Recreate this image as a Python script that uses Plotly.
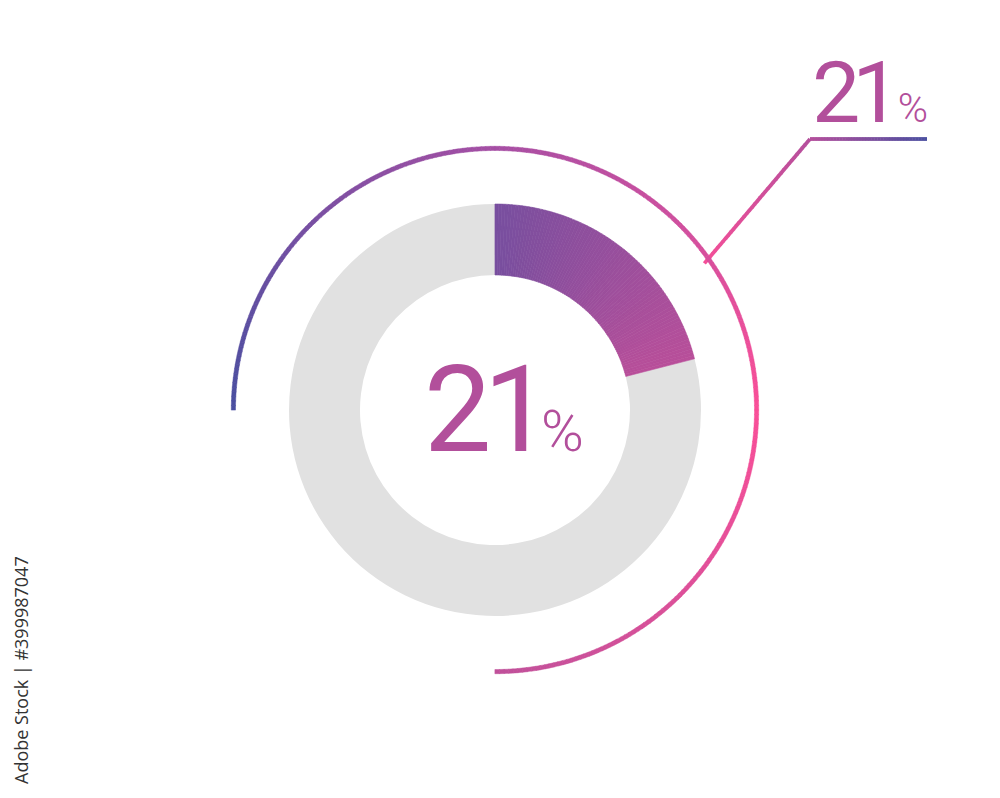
import plotly.graph_objects as go
import numpy as np

# ---- data ----
percent_value = 21
digits = ["2", "1"]
percent_sign = "%"
watermark = "Adobe Stock | #399987047"

W, H = 1000, 798
OFF = 8                    # browser body margin compensation
cx, cy = 495 - OFF, 410 - OFF
R_AX = 270                 # polar radial range (1 unit = 1 px)

r_in, r_out = 135, 206
arc_r0, arc_w = 259.5, 4.2
leader_angle = 55

def hex2rgb(h):
    h = h.lstrip('#')
    return np.array([int(h[i:i+2], 16) for i in (0, 2, 4)], dtype=float)

def grad(stops, t):
    for (p0, c0), (p1, c1) in zip(stops[:-1], stops[1:]):
        if t <= p1:
            f = (t - p0) / (p1 - p0) if p1 > p0 else 0
            c = hex2rgb(c0) * (1 - f) + hex2rgb(c1) * f
            return 'rgb(%d,%d,%d)' % tuple(c.round())
    c = hex2rgb(stops[-1][1])
    return 'rgb(%d,%d,%d)' % tuple(c)

fig = go.Figure()

fill_deg = percent_value / 100 * 360
fig.add_trace(go.Barpolar(
    theta=[(fill_deg + 360) / 2], width=[360 - fill_deg], base=[r_in], r=[r_out - r_in],
    marker=dict(color='#e1e1e1', line=dict(width=0)), hoverinfo='skip', showlegend=False))

n = 80
step = fill_deg / n
th = [step * (i + 0.5) for i in range(n)]
cols = [grad([(0, '#784f9f'), (1, '#b84f9a')], i / (n - 1)) for i in range(n)]
fig.add_trace(go.Barpolar(
    theta=th, width=[step * 1.02] * n, base=[r_in] * n, r=[r_out - r_in] * n,
    marker=dict(color=cols, line=dict(width=0.6, color=cols)), hoverinfo='skip', showlegend=False))

m = 270
a_step = 270 / m
a_th = [270 + a_step * (i + 0.5) for i in range(m)]
a_cols = [grad([(0, '#4a4fa0'), (1/3, '#a64fa4'), (2/3, '#f94f98'), (1, '#c0509a')], i / (m - 1)) for i in range(m)]
fig.add_trace(go.Barpolar(
    theta=a_th, width=[a_step * 1.05] * m, base=[arc_r0] * m, r=[arc_w] * m,
    marker=dict(color=a_cols, line=dict(width=0.5, color=a_cols)), hoverinfo='skip', showlegend=False))

# leader line on pixel overlay axes
ar = arc_r0 + arc_w / 2
sx = cx + (ar - 6) * np.sin(np.radians(leader_angle))
sy = cy - (ar - 6) * np.cos(np.radians(leader_angle))
bx, by = 810 - OFF, 139 - OFF
ex, ey = 927 - OFF, 139 - OFF
pts = [(sx, sy), (bx, by), (ex, ey)]
k = 40
for (x0, y0), (x1, y1), c0, c1 in [(pts[0], pts[1], '#f54f98', '#b44f9c'), (pts[1], pts[2], '#b44f9c', '#4a4fa0')]:
    for i in range(k):
        f0, f1 = i / k, (i + 1) / k + 0.004
        fig.add_trace(go.Scatter(
            x=[x0 + (x1 - x0) * f0, x0 + (x1 - x0) * min(f1, 1)],
            y=[y0 + (y1 - y0) * f0, y0 + (y1 - y0) * min(f1, 1)],
            mode='lines', line=dict(color=grad([(0, c0), (1, c1)], (i + 0.5) / k), width=3.8),
            hoverinfo='skip', showlegend=False, xaxis='x', yaxis='y'))

fig.update_layout(
    width=W, height=H, margin=dict(l=0, r=0, t=0, b=0),
    paper_bgcolor='white', plot_bgcolor='rgba(0,0,0,0)',
    bargap=0,
    polar=dict(
        domain=dict(x=[(cx - R_AX) / W, (cx + R_AX) / W], y=[(H - cy - R_AX) / H, (H - cy + R_AX) / H]),
        bgcolor='rgba(0,0,0,0)',
        radialaxis=dict(range=[0, R_AX], visible=False),
        angularaxis=dict(rotation=90, direction='clockwise', visible=False),
    ),
    xaxis=dict(range=[0, W], visible=False, domain=[0, 1], fixedrange=True),
    yaxis=dict(range=[H, 0], visible=False, domain=[0, 1], fixedrange=True),
    showlegend=False,
)

txt = '#b24f9b'
F = 'Roboto'

def px(x):
    return (x - OFF) / W

def py(y):
    return 1 - (y - OFF) / H

def bottom_for(baseline, size):
    return baseline + 0.244 * size + 2

def label(x_left, baseline, size, pct_size, sp1, sp2):
    t = ("<span style='letter-spacing:%dpx'>%s</span>"
         "<span style='letter-spacing:%dpx'>%s</span>"
         "<span style='font-size:%dpx;font-weight:300'>%s</span>") % (sp1, digits[0], sp2, digits[1], pct_size, percent_sign)
    return dict(x=px(x_left), y=py(bottom_for(baseline, size)), text=t, xanchor='left', yanchor='bottom',
                borderpad=0, font=dict(size=size, color=txt, family=F))

ann = [
    label(423, 450, 120, 58, -8, -10),
    label(811, 121, 86, 41, -8, -3),
    dict(x=px(21), y=py(670), text=watermark, textangle=-90, xanchor='center', yanchor='middle',
         font=dict(size=18, color='#333333', family='Open Sans')),
]
for a in ann:
    a.update(xref='paper', yref='paper', showarrow=False)
fig.update_layout(annotations=ann)

fig.write_html('out.html')
